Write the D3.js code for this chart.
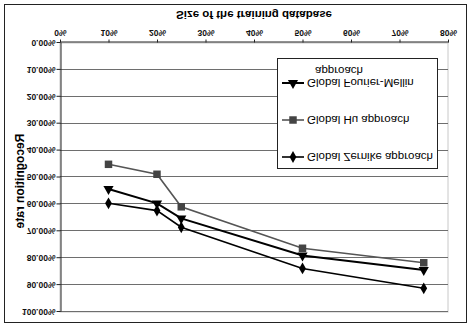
<!DOCTYPE html>
<html>
<head>
<meta charset="utf-8">
<script src="https://cdn.jsdelivr.net/npm/d3@7"></script>
<style>
  body { margin: 0; background: #fff; }
  svg { display: block; font-family: Arial, "Liberation Sans", sans-serif; }
</style>
</head>
<body>
<div id="chart"></div>
<script>
// training database size (fraction) and recognition rate for each approach
var sizes = [0.10, 0.20, 0.25, 0.50, 0.75];
var fourierMellin = [0.543, 0.596, 0.652, 0.790, 0.844];
var hu = [0.451, 0.488, 0.609, 0.763, 0.817];
var zernike = [0.596, 0.623, 0.685, 0.838, 0.912];

var xTicks = [0, 0.1, 0.2, 0.3, 0.4, 0.5, 0.6, 0.7, 0.8];
var yTicks = [0, 0.1, 0.2, 0.3, 0.4, 0.5, 0.6, 0.7, 0.8, 0.9, 1.0];

var series = [
    {name: ["Global Zernike approach"], values: zernike, symbol: d3.symbolDiamond, size: 40, stroke: "#000", fill: "#000", lw: 1.6},
    {name: ["Global Hu approach"], values: hu, symbol: d3.symbolSquare, size: 56, stroke: "#555", fill: "#444", lw: 1.6},
    {name: ["Global Fourier-Mellin", "approach"], values: fourierMellin, symbol: d3.symbolTriangle, size: 45, stroke: "#000", fill: "#000", lw: 2}
];

var W = 474, H = 329;
var plot = {left: 60, right: 448, top: 17, bottom: 286};

var svg = d3.select("#chart").append("svg")
    .attr("width", W)
    .attr("height", H);

// the reference picture is the chart mirrored top to bottom
var root = svg.append("g")
    .attr("transform", "translate(0," + H + ") scale(1,-1)");

root.append("rect")
    .attr("x", 4.5).attr("y", 6.5)
    .attr("width", 462).attr("height", 318)
    .attr("fill", "#fff")
    .attr("stroke", "#222");

var x = d3.scaleLinear().domain([0, 0.8]).range([plot.left, plot.right]);
var y = d3.scaleLinear().domain([0, 1]).range([plot.bottom, plot.top]);

// plot area border
root.append("rect")
    .attr("x", plot.left).attr("y", plot.top)
    .attr("width", plot.right - plot.left).attr("height", plot.bottom - plot.top)
    .attr("fill", "none")
    .attr("stroke", "#c8c8c8");

// gridlines
root.append("g").selectAll("line")
    .data(yTicks.slice(1))
    .enter().append("line")
    .attr("x1", plot.left).attr("x2", plot.right)
    .attr("y1", function(d) { return Math.round(y(d)) + 0.5; })
    .attr("y2", function(d) { return Math.round(y(d)) + 0.5; })
    .attr("stroke", "#6e6e6e");

var xAxis = root.append("g")
    .attr("transform", "translate(0," + (plot.bottom + 0.5) + ")")
    .call(d3.axisBottom(x).tickValues(xTicks).tickFormat(d3.format(".0%")).tickSize(3).tickSizeOuter(0).tickPadding(3));

var yAxis = root.append("g")
    .attr("transform", "translate(" + (plot.left + 0.5) + ",0)")
    .call(d3.axisLeft(y).tickValues(yTicks).tickFormat(d3.format(".2%")).tickSize(4).tickSizeOuter(0).tickPadding(1));

[xAxis, yAxis].forEach(function(ax) {
    ax.select(".domain").attr("stroke", "#222");
    ax.selectAll(".tick line").attr("stroke", "#222");
    ax.selectAll("text")
        .attr("fill", "#111")
        .style("font-size", "8.5px")
        .style("font-weight", "bold")
        .style("font-family", "Arial, 'Liberation Sans', sans-serif");
});

// axis titles
root.append("text")
    .attr("x", 254).attr("y", 318)
    .attr("text-anchor", "middle")
    .style("font-size", "11.5px")
    .style("font-weight", "bold")
    .text("Size of the training database");

root.append("text")
    .attr("transform", "translate(24,148) rotate(-90)")
    .attr("text-anchor", "middle")
    .style("font-size", "12px")
    .style("font-weight", "bold")
    .text("Recognition rate");

// series
var line = d3.line()
    .x(function(d) { return x(d[0]); })
    .y(function(d) { return y(d[1]); });

series.forEach(function(s) {
    var pts = d3.zip(sizes, s.values);
    root.append("path")
        .datum(pts)
        .attr("d", line)
        .attr("fill", "none")
        .attr("stroke", s.stroke)
        .attr("stroke-width", s.lw);
    root.append("g").selectAll("path")
        .data(pts)
        .enter().append("path")
        .attr("d", d3.symbol().type(s.symbol).size(s.size))
        .attr("transform", function(d) { return "translate(" + x(d[0]) + "," + y(d[1]) + ")"; })
        .attr("fill", s.fill);
});

// legend
var legend = root.append("g");
legend.append("rect")
    .attr("x", 277.5).attr("y", 160.5)
    .attr("width", 160).attr("height", 110)
    .attr("fill", "#fff")
    .attr("stroke", "#222");

var legendY = [172, 209, 246];
series.forEach(function(s, i) {
    var g = legend.append("g").attr("transform", "translate(0," + legendY[i] + ")");
    g.append("line")
        .attr("x1", 282).attr("x2", 304)
        .attr("stroke", s.stroke)
        .attr("stroke-width", s.lw);
    g.append("path")
        .attr("d", d3.symbol().type(s.symbol).size(s.size))
        .attr("transform", "translate(293,0)")
        .attr("fill", s.fill);
    g.selectAll("text")
        .data(s.name)
        .enter().append("text")
        .attr("x", function(d, j) { return j == 0 ? 307 : 315; })
        .attr("y", function(d, j) { return j * 12; })
        .attr("dy", "0.35em")
        .style("font-size", "11.5px")
        .text(function(d) { return d; });
});
</script>
</body>
</html>
